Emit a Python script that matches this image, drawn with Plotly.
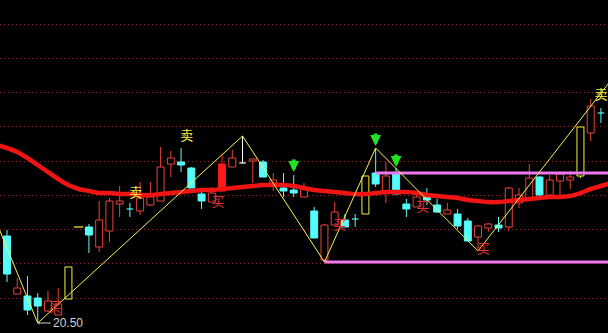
import plotly.graph_objects as go

# ---------------- data (prices) ----------------
opens = [22.24, 21.08, 21.04, 21.00, 20.74, 20.66, 20.98, 22.42, 22.42, 22.02,
         22.34, 22.88, 22.78, 22.74, 22.86, 22.94, 23.68, 23.72, 23.60, 23.08,
         22.92, 23.14, 23.62, 23.70, 23.74, 23.72, 23.30, 23.20, 23.16, 23.02,
         22.74, 21.76, 22.46, 22.56, 22.58, 22.68, 23.50, 23.14, 23.48, 22.88,
         22.82, 23.02, 22.86, 22.68, 22.68, 22.54, 22.22, 22.40, 22.46, 22.42,
         22.90, 23.00, 23.42, 23.06, 23.34, 23.36, 23.44, 24.30, 24.70]
highs = [22.36, 21.40, 21.44, 21.10, 21.14, 21.20, 21.62, 22.42, 22.48, 22.94,
         23.00, 23.24, 22.90, 23.32, 23.32, 24.02, 23.94, 24.00, 23.62, 23.18,
         23.22, 23.88, 23.96, 24.24, 23.80, 23.76, 23.50, 23.50, 23.46, 23.30,
         22.82, 22.48, 22.92, 22.68, 22.68, 23.44, 24.00, 23.72, 23.60, 22.98,
         23.12, 23.20, 22.98, 22.90, 22.78, 22.60, 22.46, 22.50, 22.62, 23.22,
         23.20, 23.68, 23.44, 23.46, 23.52, 23.54, 24.42, 24.98, 24.80]
lows = [21.32, 21.08, 20.66, 20.50, 20.72, 20.66, 20.98, 22.42, 21.90, 21.92,
        22.12, 22.62, 22.62, 22.66, 22.84, 22.94, 23.42, 23.52, 23.20, 22.78,
        22.92, 23.14, 23.62, 23.70, 23.30, 23.42, 23.14, 23.02, 23.02, 23.02,
        22.20, 21.72, 22.46, 22.42, 22.42, 22.68, 23.22, 22.90, 23.08, 22.62,
        22.82, 22.86, 22.70, 22.68, 22.38, 22.14, 21.94, 22.32, 22.32, 22.34,
        22.80, 23.00, 23.02, 23.06, 23.06, 23.18, 23.40, 24.14, 24.50]
closes = [21.48, 21.20, 20.76, 20.84, 20.94, 20.88, 21.62, 22.42, 22.26, 22.56,
          22.94, 22.94, 22.78, 23.00, 23.02, 23.62, 23.80, 23.66, 23.20, 22.94,
          23.10, 23.68, 23.80, 23.70, 23.78, 23.42, 23.36, 23.14, 23.10, 23.18,
          22.20, 22.46, 22.72, 22.42, 22.58, 23.44, 23.28, 23.44, 23.08, 22.78,
          23.02, 22.96, 22.72, 22.76, 22.44, 22.14, 22.44, 22.48, 22.40, 23.20,
          23.06, 23.40, 23.06, 23.36, 23.48, 23.42, 24.42, 24.84, 24.70]

# special candles
limit_up_days = [6, 35, 56]      # yellow hollow
one_price_days = [7]             # yellow flat
big_up_days = [21]               # solid red
doji_cyan_days = [12, 34, 58]
doji_white_days = [23]

# moving average (index -1 .. 59)
ma_start = -1
ma_vals = [24.06, 24.00, 23.92, 23.80, 23.66, 23.52, 23.38, 23.26, 23.18, 23.14,
           23.10, 23.10, 23.08, 23.08, 23.06, 23.06, 23.08, 23.10, 23.12, 23.14,
           23.16, 23.16, 23.18, 23.20, 23.22, 23.24, 23.26, 23.26, 23.26, 23.24,
           23.20, 23.16, 23.14, 23.12, 23.10, 23.08, 23.08, 23.10, 23.12, 23.12,
           23.12, 23.10, 23.06, 23.04, 23.02, 23.00, 22.96, 22.94, 22.92, 22.92,
           22.94, 22.96, 22.98, 23.00, 23.02, 23.02, 23.04, 23.10, 23.18, 23.24,
           23.30]

# zigzag turning points
zz_idx = [-1, 3, 23, 31, 36, 46, 59]
zz_vals = [22.50, 20.50, 24.24, 21.72, 24.00, 21.94, 25.36]

# support / resistance
support_from, support_val = 31, 21.72
resist_from, resist_val = 36, 23.50

# signals
sell_idx = [12.57, 17.55, 58.0]
sell_vals = [23.08, 24.22, 25.04]
buy_idx = [4.69, 20.6, 32.5, 40.6, 46.5]
buy_vals = [20.80, 22.90, 22.44, 22.80, 21.96]
arrow_idx = [28, 36, 38]
arrow_vals = [23.52, 24.04, 23.62]
low_idx, low_val, low_text = 3, 20.50, "20.50"

# ---------------- figure ----------------
RED = "#e8403c"
CYAN = "#54fcfc"
YELLOW = "#f2f23c"
WHITE = "#ffffff"
BG = "#000000"
BODY_W = 0.68

n = len(opens)
special = set(limit_up_days + one_price_days + big_up_days + doji_cyan_days + doji_white_days)
ups = [i for i in range(n) if i not in special and closes[i] > opens[i]]
downs = [i for i in range(n) if i not in special and closes[i] < opens[i]]

fig = go.Figure()


def bodies(idx, line_color, fill):
    fig.add_trace(go.Bar(
        x=idx,
        base=[min(opens[i], closes[i]) for i in idx],
        y=[abs(closes[i] - opens[i]) for i in idx],
        width=BODY_W,
        marker=dict(color=fill, line=dict(color=line_color, width=1)),
        showlegend=False, hoverinfo="skip"))


def wicks(idx, color):
    xs, ys = [], []
    for i in idx:
        top = max(opens[i], closes[i])
        bot = min(opens[i], closes[i])
        if highs[i] > top:
            xs += [i, i, None]
            ys += [highs[i], top, None]
        if lows[i] < bot:
            xs += [i, i, None]
            ys += [bot, lows[i], None]
    if xs:
        fig.add_trace(go.Scatter(x=xs, y=ys, mode="lines", line=dict(color=color, width=1),
                                 showlegend=False, hoverinfo="skip"))


def flats(idx, color, half):
    xs, ys = [], []
    for i in idx:
        xs += [i - half, i + half, None]
        ys += [opens[i], opens[i], None]
    fig.add_trace(go.Scatter(x=xs, y=ys, mode="lines", line=dict(color=color, width=1.2),
                             showlegend=False, hoverinfo="skip"))


bodies(ups, RED, BG)
bodies(downs, CYAN, CYAN)
bodies(limit_up_days, YELLOW, BG)
bodies(big_up_days, "#ff1a1a", "#ff1a1a")

wicks(ups, RED)
wicks(downs, CYAN)
wicks(limit_up_days, YELLOW)
wicks(big_up_days, "#ff1a1a")
wicks(doji_cyan_days, CYAN)
wicks(doji_white_days, WHITE)
flats(doji_cyan_days, CYAN, 0.32)
flats(doji_white_days, WHITE, 0.32)
flats(one_price_days, YELLOW, 0.45)

# moving average
fig.add_trace(go.Scatter(x=list(range(ma_start, ma_start + len(ma_vals))), y=ma_vals,
                         mode="lines", line=dict(color="#f01414", width=4.5, shape="spline"),
                         showlegend=False, hoverinfo="skip"))

right_edge = n + 2
fig.add_trace(go.Scatter(x=[support_from, right_edge], y=[support_val, support_val], mode="lines",
                         line=dict(color="#ee78ee", width=3), showlegend=False, hoverinfo="skip"))
fig.add_trace(go.Scatter(x=[resist_from, right_edge], y=[resist_val, resist_val], mode="lines",
                         line=dict(color="#ee78ee", width=3), showlegend=False, hoverinfo="skip"))

# zigzag
fig.add_trace(go.Scatter(x=zz_idx, y=zz_vals, mode="lines",
                         line=dict(color="#f4f45a", width=1), showlegend=False, hoverinfo="skip"))

# signal texts
fig.add_trace(go.Scatter(x=sell_idx, y=sell_vals, mode="text", text=["卖"] * len(sell_idx),
                         textfont=dict(color="#f6f040", size=13, family="Noto Sans CJK SC"),
                         showlegend=False, hoverinfo="skip", cliponaxis=False))
fig.add_trace(go.Scatter(x=buy_idx, y=buy_vals, mode="text", text=["买"] * len(buy_idx),
                         textfont=dict(color="#e03030", size=13, family="Noto Sans CJK SC"),
                         showlegend=False, hoverinfo="skip", cliponaxis=False))

annotations = []
for xi, yi in zip(arrow_idx, arrow_vals):
    annotations.append(dict(x=xi, y=yi, xref="x", yref="y", text="", showarrow=True,
                            ax=0, ay=-14, arrowcolor="#22e022", arrowwidth=4,
                            arrowhead=2, arrowsize=0.55))
annotations.append(dict(x=low_idx, y=low_val, xref="x", yref="y", text=low_text,
                        showarrow=True, ax=13, ay=0, xanchor="left",
                        arrowcolor="#c8c8c8", arrowwidth=1, arrowhead=1, arrowsize=0.6,
                        font=dict(color="#d0d0d0", size=12, family="Arial")))

fig.update_layout(
    width=608, height=333, margin=dict(l=0, r=0, t=0, b=0),
    paper_bgcolor=BG, plot_bgcolor=BG, showlegend=False,
    barmode="overlay",
    annotations=annotations,
    xaxis=dict(range=[-0.684, 58.69], visible=False, fixedrange=True),
    yaxis=dict(range=[20.30, 26.96], showticklabels=False, ticks="", showline=False,
               zeroline=False, showgrid=True, gridcolor="#8a2626", griddash="1px,3px",
               gridwidth=1, tick0=21.0, dtick=0.685, fixedrange=True),
)

fig.write_html("out.html")
